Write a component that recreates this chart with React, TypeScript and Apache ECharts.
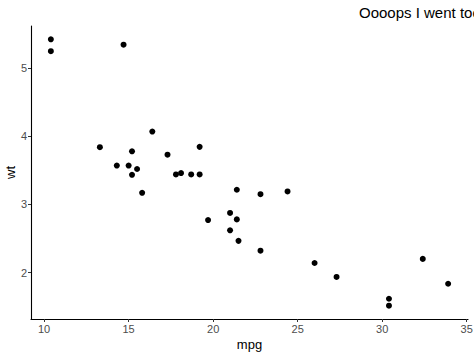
import React, { useEffect, useRef } from "react";
import * as echarts from "echarts";

const mpg = [21.0, 21.0, 22.8, 21.4, 18.7, 18.1, 14.3, 24.4, 22.8, 19.2, 17.8, 16.4, 17.3, 15.2, 10.4, 10.4, 14.7, 32.4, 30.4, 33.9, 21.5, 15.5, 15.2, 13.3, 19.2, 27.3, 26.0, 30.4, 15.8, 19.7, 15.0, 21.4];
const wt = [2.62, 2.875, 2.32, 3.215, 3.44, 3.46, 3.57, 3.19, 3.15, 3.44, 3.44, 4.07, 3.73, 3.78, 5.25, 5.424, 5.345, 2.2, 1.615, 1.835, 2.465, 3.52, 3.435, 3.84, 3.845, 1.935, 2.14, 1.513, 3.17, 2.77, 3.57, 2.78];
const xTicks = [10, 15, 20, 25, 30, 35];
const yTicks = [2, 3, 4, 5];
const title = "Oooops I went too far";

export default function App() {
  const ref = useRef<HTMLDivElement>(null);
  useEffect(() => {
    const chart = echarts.init(ref.current!, null, { renderer: "svg" });
    const xMin = Math.min(...mpg), xMax = Math.max(...mpg);
    const yMin = Math.min(...wt), yMax = Math.max(...wt);
    const xe = (xMax - xMin) * 0.05, ye = (yMax - yMin) * 0.05;
    chart.setOption({
      animation: false,
      backgroundColor: "#ffffff",
      textStyle: { fontFamily: "Liberation Sans, Arial, sans-serif" },
      graphic: [
        {
          type: "text",
          left: 359,
          top: 5,
          style: { text: title, fontSize: 15, fill: "#000", fontFamily: "Liberation Sans, Arial, sans-serif" },
        },
      ],
      grid: { left: 31, right: 6, top: 26, bottom: 36, containLabel: false, outerBoundsMode: "none" },
      xAxis: {
        type: "value",
        min: xMin - xe,
        max: xMax + xe,
        name: "mpg",
        nameLocation: "middle",
        nameGap: 19,
        nameMoveOverlap: false,
        nameTextStyle: { fontSize: 13, color: "#000", verticalAlign: "top" },
        splitLine: { show: false },
        axisLine: { show: true, onZero: false, lineStyle: { color: "#000", width: 1.1 } },
        axisTick: { show: true, length: 3, customValues: xTicks, lineStyle: { color: "#333" } },
        axisLabel: { customValues: xTicks, fontSize: 11, color: "#4d4d4d", margin: 4 },
      },
      yAxis: {
        type: "value",
        min: yMin - ye,
        max: yMax + ye,
        name: "wt",
        nameLocation: "middle",
        nameGap: 14,
        nameMoveOverlap: false,
        nameRotate: 90,
        nameTextStyle: { fontSize: 13, color: "#000" },
        splitLine: { show: false },
        axisLine: { show: true, onZero: false, lineStyle: { color: "#000", width: 1.1 } },
        axisTick: { show: true, length: 3, customValues: yTicks, lineStyle: { color: "#333" } },
        axisLabel: { customValues: yTicks, fontSize: 11, color: "#4d4d4d", margin: 4 },
      },
      series: [
        {
          type: "scatter",
          symbol: "circle",
          symbolSize: 6,
          itemStyle: { color: "#000", opacity: 1 },
          data: mpg.map((m, i) => [m, wt[i]]),
        },
      ],
    });
    return () => chart.dispose();
  }, []);
  return <div ref={ref} style={{ width: 474, height: 355, position: "absolute", left: 0, top: 0 }} />;
}
